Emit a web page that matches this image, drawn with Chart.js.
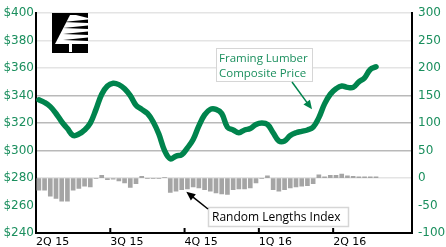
<!DOCTYPE html>
<html>
<head>
<meta charset="utf-8">
<script src="https://cdn.jsdelivr.net/npm/chart.js@4.4.1/dist/chart.umd.min.js"></script>
<style>
  html, body { margin: 0; padding: 0; background: #fff; }
</style>
</head>
<body>
<canvas id="lumberChart" width="446" height="247"></canvas>
<script>
// Weekly readings, April 2015 - June 2016 (week 0 = start of 2Q 15)
const weeks = [];
for (let i = 0; i < 60; i++) weeks.push(i + 0.5);

// Framing Lumber Composite Price ($, left axis)
const compositePrice = [
  337, 335, 332, 327, 321, 316, 311, 312, 315, 320,
  330, 341, 347, 349, 348, 345, 340, 333, 330, 327,
  321, 312, 300, 294, 296, 297, 302, 308, 318, 326,
  330, 330, 327, 317, 315, 313, 315, 316, 319, 320,
  319, 313, 307, 307, 311, 313, 314, 315, 317, 324,
  334, 341, 345, 347, 346, 346, 350, 353, 359, 361
];

// Random Lengths Index (right axis)
const randomLengthsIndex = [
  -22, -22, -33, -37, -42, -42, -22, -19, -15, -16,
  -1, 5, -3, -2, -5, -9, -17, -10, 3, -1,
  -1, -1, 1, -26, -24, -21, -20, -16, -18, -21,
  -24, -27, -29, -30, -21, -20, -20, -18, -9, -1,
  4, -21, -24, -21, -18, -16, -15, -14, -10, 6,
  2, 5, 5, 7, 4, 3, 2, 2, 2, 2
];

// Quarter ticks on the x axis
const quarterWeeks = [0, 13, 26, 39, 52];
const quarterLabels = ['2Q 15', '3Q 15', '4Q 15', '1Q 16', '2Q 16'];

const green = '#1b8f5e';
const lineGreen = '#00844d';

function gridColor(ctx) {
  const v = ctx.tick && ctx.tick.value;
  if (v === 340 || v === 320 || v === 300) return '#b9b9b9';
  if (v === 260 || v === 240) return 'rgba(0,0,0,0)';
  return '#e4e4e4';
}

function drawArrow(c, x1, y1, x2, y2, color) {
  const ang = Math.atan2(y2 - y1, x2 - x1);
  c.strokeStyle = color;
  c.fillStyle = color;
  c.lineWidth = 1.5;
  c.beginPath();
  c.moveTo(x1, y1);
  c.lineTo(x2 - 5 * Math.cos(ang), y2 - 5 * Math.sin(ang));
  c.stroke();
  c.beginPath();
  c.moveTo(x2, y2);
  c.lineTo(x2 - 9 * Math.cos(ang) + 4 * Math.sin(ang), y2 - 9 * Math.sin(ang) - 4 * Math.cos(ang));
  c.lineTo(x2 - 9 * Math.cos(ang) - 4 * Math.sin(ang), y2 - 9 * Math.sin(ang) + 4 * Math.cos(ang));
  c.closePath();
  c.fill();
}

// Logo, quarter tick marks and callout labels
const decorations = {
  id: 'decorations',
  afterDraw(chart) {
    const c = chart.ctx;
    const x = chart.scales.x;
    const y = chart.scales.y;
    const y1 = chart.scales.y1;
    const area = chart.chartArea;
    c.save();

    // tick marks pointing up from the bottom axis
    c.strokeStyle = '#000';
    c.lineWidth = 2;
    quarterWeeks.slice(1).forEach(w => {
      const px = x.getPixelForValue(w);
      c.beginPath();
      c.moveTo(px, area.bottom);
      c.lineTo(px, area.bottom - 5);
      c.stroke();
    });

    // logo
    c.fillStyle = '#000';
    c.fillRect(52, 13, 36, 40);
    c.fillStyle = '#fff';
    c.beginPath();
    c.moveTo(70, 15);
    c.lineTo(88, 15);
    c.lineTo(88, 44);
    c.lineTo(55, 44);
    c.closePath();
    c.fill();
    c.fillStyle = '#000';
    c.beginPath();
    c.moveTo(72, 14);
    c.lineTo(88, 14);
    c.lineTo(88, 18);
    c.closePath();
    c.fill();
    [21, 27, 33, 39].forEach(yy => {
      c.beginPath();
      c.moveTo(88, yy - 1.5);
      c.lineTo(88, yy + 2);
      c.lineTo(63, yy + 1);
      c.closePath();
      c.fill();
    });
    c.fillStyle = '#fff';
    c.fillRect(69, 44, 3, 8);

    // Framing Lumber callout
    c.fillStyle = 'rgba(255,255,255,0.92)';
    c.fillRect(216, 48, 96, 33);
    c.strokeStyle = '#d6d6d6';
    c.lineWidth = 1;
    c.strokeRect(216.5, 48.5, 96, 33);
    c.fillStyle = green;
    c.font = '11.5px "Open Sans"';
    c.textBaseline = 'alphabetic';
    c.textAlign = 'left';
    c.fillText('Framing Lumber', 219, 62);
    c.fillText('Composite Price', 219, 77);
    drawArrow(c, 292, 82, x.getPixelForValue(48.3), y.getPixelForValue(330), lineGreen);

    // Random Lengths callout
    c.fillStyle = '#fff';
    c.fillRect(208, 207, 140, 19);
    c.strokeStyle = '#d6d6d6';
    c.strokeRect(208.5, 207.5, 140, 19);
    c.fillStyle = '#000';
    c.font = '12px "Open Sans"';
    c.fillText('Random Lengths Index', 212, 221);
    drawArrow(c, 208, 209, x.getPixelForValue(26.3), y1.getPixelForValue(-25), '#000');

    c.restore();
  }
};

const ctx = document.getElementById('lumberChart').getContext('2d');

new Chart(ctx, {
  data: {
    datasets: [
      {
        type: 'line',
        label: 'Framing Lumber Composite Price',
        data: weeks.map((w, i) => ({ x: w, y: compositePrice[i] })),
        yAxisID: 'y',
        borderColor: lineGreen,
        borderWidth: 5.5,
        pointRadius: 0,
        tension: 0.4,
        borderCapStyle: 'round',
        borderJoinStyle: 'round',
        order: 0
      },
      {
        type: 'bar',
        label: 'Random Lengths Index',
        data: weeks.map((w, i) => ({ x: w, y: randomLengthsIndex[i] })),
        yAxisID: 'y1',
        backgroundColor: '#a5a5a5',
        barThickness: 4,
        order: 1
      }
    ]
  },
  options: {
    responsive: false,
    animation: false,
    layout: { padding: { top: 7, left: 0, right: 0, bottom: 0 } },
    plugins: {
      legend: { display: false },
      tooltip: { enabled: false }
    },
    scales: {
      x: {
        type: 'linear',
        min: 0,
        max: 65.8,
        offset: false,
        grid: { display: false, drawTicks: false, offset: false },
        border: { display: true, color: '#000', width: 2 },
        afterBuildTicks: axis => {
          axis.ticks = quarterWeeks.map(v => ({ value: v }));
        },
        ticks: {
          autoSkip: false,
          maxRotation: 0,
          align: 'start',
          padding: 3,
          color: '#000',
          font: { family: 'DejaVu Sans', size: 11 },
          callback: (v) => quarterLabels[quarterWeeks.indexOf(v)]
        },
        afterFit: axis => { axis.height = 14; }
      },
      y: {
        position: 'left',
        min: 240,
        max: 400,
        ticks: {
          stepSize: 20,
          padding: 2,
          color: green,
          font: { family: 'DejaVu Sans', size: 12 },
          callback: v => '$' + v
        },
        grid: { color: gridColor, lineWidth: 1.5, drawTicks: false },
        border: { display: true, color: '#000', width: 2 },
        afterFit: axis => { axis.width = 36; }
      },
      y1: {
        position: 'right',
        min: -100,
        max: 300,
        ticks: {
          stepSize: 50,
          padding: 6,
          color: green,
          font: { family: 'DejaVu Sans', size: 12 }
        },
        grid: { drawOnChartArea: false, drawTicks: false },
        border: { display: true, color: '#000', width: 2 },
        afterFit: axis => { axis.width = 34; }
      }
    }
  },
  plugins: [decorations]
});
</script>
</body>
</html>
